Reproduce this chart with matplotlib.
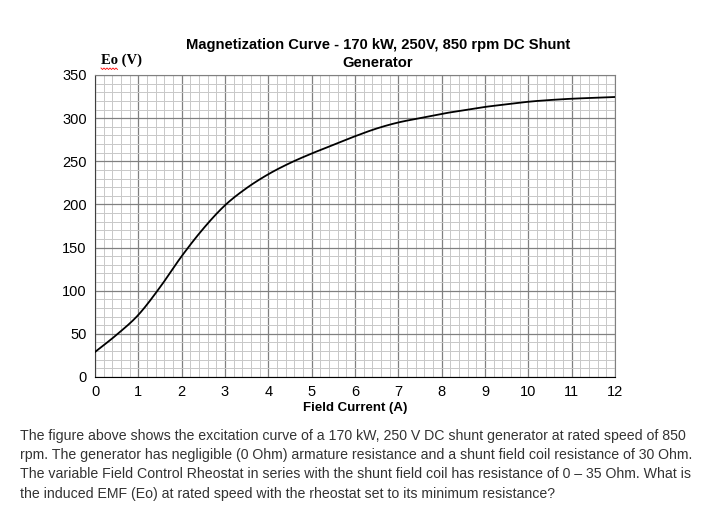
import numpy as np
import matplotlib.pyplot as plt
from matplotlib.ticker import MultipleLocator

# magnetization curve
field_current = [0, 0.5, 1.0, 1.5, 2.0, 2.5, 3.0, 3.5, 4.0, 4.5, 5.0, 5.5, 6.0, 6.5, 7.0,
                 7.5, 8.0, 8.5, 9.0, 9.5, 10.0, 10.5, 11.0, 11.5, 12.0]
eo_volts = [29, 49, 72, 104, 140, 172, 199, 219, 235, 248, 259, 269, 279, 288, 295,
            300, 305, 309, 313, 316, 319, 321, 322.5, 323.5, 324.5]

x_ticks = list(range(0, 13))
y_ticks = [0, 50, 100, 150, 200, 250, 300, 350]

title = "Magnetization Curve - 170 kW, 250V, 850 rpm DC Shunt\nGenerator"
question = ("The figure above shows the excitation curve of a 170 kW, 250 V DC shunt generator at rated speed of 850\n"
            "rpm. The generator has negligible (0 Ohm) armature resistance and a shunt field coil resistance of 30 Ohm.\n"
            "The variable Field Control Rheostat in series with the shunt field coil has resistance of 0 \u2013 35 Ohm. What is\n"
            "the induced EMF (Eo) at rated speed with the rheostat set to its minimum resistance?")

plt.rcParams['font.family'] = ['Liberation Sans', 'DejaVu Sans']

fig = plt.figure(figsize=(7.09, 5.09), dpi=100)
ax = fig.add_axes([95 / 709, 1 - 377 / 509, 520 / 709, 302 / 509])

# smooth the hand-drawn look with a monotone cubic through the read points
xs = np.linspace(0, 12, 400)
xp, yp = np.array(field_current), np.array(eo_volts)
h = np.diff(xp)
d = np.diff(yp) / h
m = np.concatenate([[d[0]], (d[:-1] + d[1:]) / 2, [d[-1]]])
idx = np.clip(np.searchsorted(xp, xs) - 1, 0, len(h) - 1)
t = (xs - xp[idx]) / h[idx]
ys = ((2 * t**3 - 3 * t**2 + 1) * yp[idx] + (t**3 - 2 * t**2 + t) * h[idx] * m[idx]
      + (-2 * t**3 + 3 * t**2) * yp[idx + 1] + (t**3 - t**2) * h[idx] * m[idx + 1])
ax.plot(xs, ys, color='black', linewidth=1.3, zorder=5)

ax.set_xlim(0, 12)
ax.set_ylim(0, 350)
ax.set_xticks(x_ticks)
ax.set_yticks(y_ticks)
ax.xaxis.set_minor_locator(MultipleLocator(0.2))
ax.yaxis.set_minor_locator(MultipleLocator(10))
ax.grid(which='minor', color='#c8c8c8', linewidth=0.7)
ax.grid(which='major', color='#808080', linewidth=0.9)
ax.set_axisbelow(True)
ax.tick_params(which='both', length=0, labelsize=10.5, pad=6)
for side in ['top', 'right']:
    ax.spines[side].set_color('#808080')
ax.spines['left'].set_color('#404040')
ax.spines['bottom'].set_color('black')

ax.set_xlabel("Field Current (A)", fontsize=9.5, fontweight='bold', labelpad=2)
fig.text(378 / 709, 1 - 54 / 509, title, ha='center', va='center',
         fontsize=10.6, fontweight='bold', linespacing=1.35)
fig.text(101 / 709, 1 - 60 / 509, "Eo (V)", ha='left', va='center',
         fontsize=10.5, fontweight='bold', family=['Liberation Serif', 'DejaVu Serif'])

# spell-check squiggle under "Eo"
sx = np.arange(101, 118, 1.5)
sy = 68 + np.where(np.arange(len(sx)) % 2 == 0, 0, 1.5)
fig.add_artist(plt.Line2D(sx / 709, 1 - sy / 509, color='red', linewidth=0.6))

fig.text(20 / 709, 1 - 429 / 509, question, ha='left', va='top',
         fontsize=10.2, color='#333333', linespacing=1.47)

fig.savefig("out.png", dpi=100)
